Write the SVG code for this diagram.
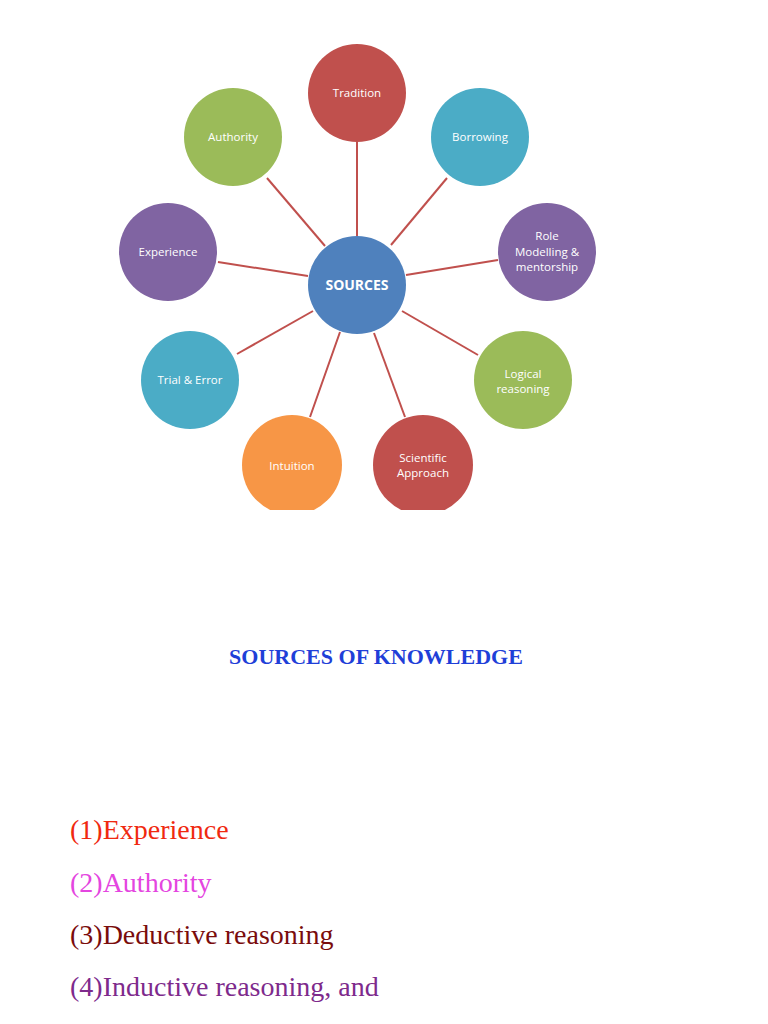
<svg xmlns="http://www.w3.org/2000/svg" width="768" height="1024" viewBox="0 0 768 1024">
<defs>
<style>
.n text{font-family:"Open Sans","Liberation Sans",sans-serif;font-size:11.5px;fill:#fff;text-anchor:middle}
.c line{stroke:#c0504d;stroke-width:2}
.l{font-family:"Liberation Serif",serif;font-size:28px}
</style>
<clipPath id="cp"><rect x="0" y="0" width="768" height="510"/></clipPath>
</defs>
<rect width="768" height="1024" fill="#fff"/>
<g class="c">
<line x1="357" y1="142" x2="357" y2="236"/>
<line x1="267" y1="178" x2="325" y2="246"/>
<line x1="447" y1="178" x2="391" y2="245"/>
<line x1="218" y1="262" x2="308" y2="276"/>
<line x1="498" y1="260" x2="406" y2="275"/>
<line x1="237" y1="354" x2="313" y2="311"/>
<line x1="478" y1="355" x2="402" y2="311"/>
<line x1="310" y1="417" x2="340" y2="332"/>
<line x1="405" y1="417" x2="374" y2="333"/>
</g>
<g clip-path="url(#cp)">
<g id="tradition" class="n"><circle cx="357" cy="93" r="49" fill="#c0504d"/><text x="357" y="97">Tradition</text></g>
<g id="authority" class="n"><circle cx="233" cy="137" r="49" fill="#9bbb59"/><text x="233" y="141">Authority</text></g>
<g id="borrowing" class="n"><circle cx="480" cy="137" r="49" fill="#4bacc6"/><text x="480" y="141">Borrowing</text></g>
<g id="experience" class="n"><circle cx="168" cy="252" r="49" fill="#8064a2"/><text x="168" y="256">Experience</text></g>
<g id="role" class="n"><circle cx="547" cy="252" r="49" fill="#8064a2"/><text x="547" y="240">Role</text><text x="547" y="256">Modelling &amp;</text><text x="547" y="271">mentorship</text></g>
<g id="sources" class="n"><circle cx="357" cy="285" r="49" fill="#4f81bd"/><text x="357" y="290" style="font-size:14px;font-weight:bold">SOURCES</text></g>
<g id="trial" class="n"><circle cx="190" cy="380" r="49" fill="#4bacc6"/><text x="190" y="384">Trial &amp; Error</text></g>
<g id="logical" class="n"><circle cx="523" cy="380" r="49" fill="#9bbb59"/><text x="523" y="378">Logical</text><text x="523" y="393">reasoning</text></g>
<g id="intuition" class="n"><circle cx="292" cy="465" r="50" fill="#f79646"/><text x="292" y="470">Intuition</text></g>
<g id="scientific" class="n"><circle cx="423" cy="465" r="50" fill="#c0504d"/><text x="423" y="462">Scientific</text><text x="423" y="477">Approach</text></g>
</g>
<text x="376" y="664" text-anchor="middle" style="font-family:'Liberation Serif',serif;font-size:22px;font-weight:bold;fill:#1f3fd8">SOURCES OF KNOWLEDGE</text>
<text class="l" x="70" y="839" fill="#f0290f">(1)Experience</text>
<text class="l" x="70" y="892" fill="#e445e0">(2)Authority</text>
<text class="l" x="70" y="944" fill="#7a0c0c">(3)Deductive reasoning</text>
<text class="l" x="70" y="996" fill="#7e2a8c">(4)Inductive reasoning, and</text>
</svg>
